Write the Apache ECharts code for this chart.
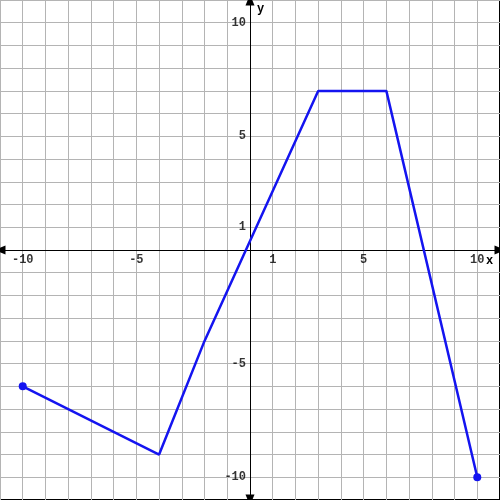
<!DOCTYPE html>
<html>
<head>
<meta charset="utf-8">
<script src="https://cdn.jsdelivr.net/npm/echarts@6/dist/echarts.min.js"></script>
<style>
  html, body { margin: 0; padding: 0; background: #fff; }
  #chart { width: 500px; height: 500px; }
</style>
</head>
<body>
<div id="chart"></div>
<script>
// piecewise line, vertices
const xs = [-10, -4, -2, 3, 6, 10]
const ys = [-6, -9, -4, 7, 7, -10]
// only these ticks get a label
const xTickLabels = [-10, -5, 1, 5, 10]
const yTickLabels = [-10, -5, 1, 5, 10]
const endPoints = [0, xs.length - 1]

const font = 'Liberation Mono, DejaVu Sans Mono, monospace'
const blue = '#1414f0'

const chart = echarts.init(document.getElementById('chart'))

const axisCommon = {
  type: 'value',
  min: -11,
  max: 11,
  interval: 1,
  axisLine: {
    onZero: true,
    symbol: ['triangle', 'triangle'],
    symbolSize: [9, 11],
    lineStyle: { color: '#000', width: 1 }
  },
  axisTick: { show: false },
  axisLabel: { show: false },
  splitLine: { show: true, lineStyle: { color: '#b4b4b4', width: 1 } }
}

const tickLabel = (position) => ({
  show: true,
  position,
  distance: 4,
  fontFamily: font,
  fontWeight: 'bold',
  fontSize: 12,
  color: '#000',
  formatter: p => String(p.data.name)
})

const option = {
  animation: false,
  grid: {
    left: 0, right: 0, top: 0, bottom: 0,
    outerBoundsMode: 'none',
    containLabel: false,
    show: true,
    borderColor: '#000',
    borderWidth: 2
  },
  xAxis: { ...axisCommon },
  yAxis: { ...axisCommon },
  graphic: [
    { type: 'text', left: 486, top: 255, style: { text: 'x', font: 'bold 12px ' + font, fill: '#000' } },
    { type: 'text', left: 257, top: 3, style: { text: 'y', font: 'bold 12px ' + font, fill: '#000' } }
  ],
  series: [{
    type: 'line',
    data: xs.map((x, i) => ({
      value: [x, ys[i]],
      symbol: endPoints.includes(i) ? 'circle' : 'none'
    })),
    symbolSize: 8,
    showAllSymbol: true,
    lineStyle: { color: blue, width: 2.5 },
    itemStyle: { color: blue },
    z: 5
  }, {
    // x tick labels, sitting under the x axis
    type: 'scatter',
    symbolSize: 0,
    silent: true,
    data: xTickLabels.map(v => ({ name: v, value: [v, 0] })),
    label: tickLabel('bottom'),
    z: 6
  }, {
    // y tick labels, left of the y axis
    type: 'scatter',
    symbolSize: 0,
    silent: true,
    data: yTickLabels.map(v => ({ name: v, value: [0, v] })),
    label: tickLabel('left'),
    z: 6
  }]
}

chart.setOption(option)
</script>
</body>
</html>
